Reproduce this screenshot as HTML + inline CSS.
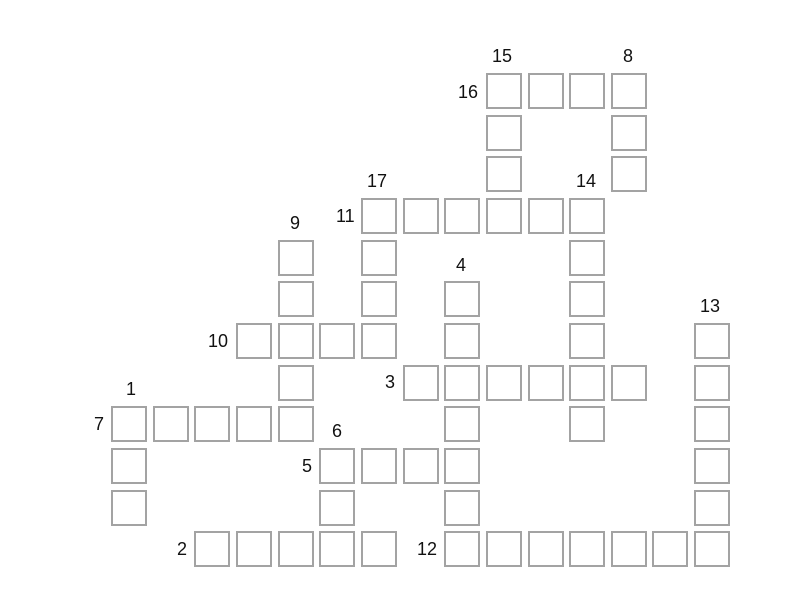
<!DOCTYPE html>
<html><head><meta charset="utf-8"><style>
html,body{margin:0;padding:0;background:#fff;width:800px;height:600px;overflow:hidden;position:relative;font-family:"Liberation Sans",sans-serif;}
.c{position:absolute;width:32px;height:32px;border:2px solid #a3a3a3;background:#fff;}
.l{position:absolute;font-size:18px;color:#111;line-height:20px;}
</style></head><body>
<div id="g"></div>
<script>
var rows={0:[9,10,11,12],1:[9,12],2:[9,12],3:[6,7,8,9,10,11],4:[4,6,11],5:[4,6,8,11],6:[3,4,5,6,8,11,14],7:[4,7,8,9,10,11,12,14],8:[0,1,2,3,4,8,11,14],9:[0,5,6,7,8,14],10:[0,5,8,14],11:[2,3,4,5,6,8,9,10,11,12,13,14]};
var h='';
for(var r in rows){rows[r].forEach(function(c){h+='<div class="c" style="left:'+Math.round(111+41.65*c)+'px;top:'+Math.round(73+41.65*r)+'px"></div>';});}
document.getElementById('g').innerHTML=h;
</script>
<div class="l" style="left:492px;top:46px">15</div>
<div class="l" style="left:623px;top:46px">8</div>
<div class="l" style="left:458px;top:82px">16</div>
<div class="l" style="left:367px;top:171px">17</div>
<div class="l" style="left:576px;top:171px">14</div>
<div class="l" style="left:336px;top:206px">11</div>
<div class="l" style="left:290px;top:213px">9</div>
<div class="l" style="left:456px;top:255px">4</div>
<div class="l" style="left:700px;top:296px">13</div>
<div class="l" style="left:208px;top:331px">10</div>
<div class="l" style="left:385px;top:372px">3</div>
<div class="l" style="left:126px;top:379px">1</div>
<div class="l" style="left:94px;top:414px">7</div>
<div class="l" style="left:332px;top:421px">6</div>
<div class="l" style="left:302px;top:456px">5</div>
<div class="l" style="left:177px;top:539px">2</div>
<div class="l" style="left:417px;top:539px">12</div>
</body></html>
